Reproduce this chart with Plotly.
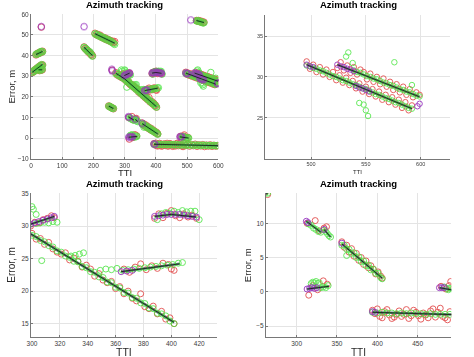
import plotly.graph_objects as go

# ---------------- data (TTI, error in m) ----------------
T01_X = [4, 7, 10, 13, 16, 19, 22, 25, 28, 31, 34, 37]
T01_RED = [31.7, 32.5, 32.3, 33.2, 33.0, 33.9, 33.7, 34.6, 34.4, 35.3, 35.1, 35.5]
T01_GRN = [32.1, 32.0, 32.8, 32.7, 33.5, 33.4, 34.2, 34.1, 34.9, 34.8, 35.6, 35.3]
T01_LX = [4, 37]
T01_LY = [31.9, 35.7]

T02_X = [24, 27, 30, 33, 36]
T02_RED = [33.2, 32.7, 33.4, 32.9, 33.1]
T02_GRN = [33.0, 33.5, 32.8, 33.6, 33.3]
T02_LX = [24, 36]
T02_LY = [33.1, 33.1]

T03_X = [16, 19, 22, 25, 28, 31, 34, 37]
T03_RED = [40.3, 40.9, 40.8, 41.4, 41.2, 41.8, 41.6, 42.1]
T03_GRN = [40.6, 40.7, 41.1, 41.0, 41.5, 41.9, 42.0, 41.8]
T03_LX = [16, 37]
T03_LY = [40.5, 42.0]

T04_X = [170, 173, 176, 179, 182, 185, 188, 191, 194, 197]
T04_RED = [44.2, 43.4, 43.3, 42.5, 42.4, 41.5, 41.5, 40.6, 40.6, 39.9]
T04_GRN = [44.0, 43.7, 42.9, 42.9, 42.0, 41.9, 41.8, 41.2, 40.2, 39.7]
T04_LX = [170, 197]
T04_LY = [44.0, 40.0]

T05_X = [205, 209, 213, 217, 221, 225, 229, 233, 237, 241, 245, 249, 253, 257, 261, 265, 268]
T05_RED = [50.8, 50.1, 50.3, 49.5, 49.9, 48.9, 49.0, 48.3, 48.6, 47.7, 48.0, 47.2, 47.4, 46.6, 47.0, 46.3, 46.8]
T05_GRN = [50.5, 50.4, 49.8, 49.8, 49.2, 49.2, 48.6, 48.7, 48.0, 48.1, 47.5, 47.6, 46.9, 46.9, 46.2, 45.8, 45.4]
T05_LX = [205, 268]
T05_LY = [50.6, 46.0]

T06_X = [249, 252, 255, 258, 261, 264]
T06_RED = [15.6, 15.2, 15.1, 14.6, 14.6, 14.2]
T06_GRN = [15.4, 15.4, 14.9, 14.8, 14.4, 14.4]
T06_LX = [249, 264]
T06_LY = [15.5, 14.3]

T07_X = [272, 276, 280, 284, 288, 292, 296, 300, 303, 306, 309, 312, 315, 318, 321, 324,
         327, 330, 333, 336, 339, 342, 345, 348, 351, 354, 357, 360, 363, 366, 369, 372,
         375, 378, 381, 384, 387, 390, 393, 396, 399, 402]
T07_RED = [31.7, 30.6, 30.9, 29.9, 30.2, 29.2, 29.5, 28.9, 28.0, 28.1, 27.2, 27.5, 26.5, 26.0,
           25.7, 25.9, 24.8, 25.1, 24.6, 23.7, 24.0, 23.4, 22.3, 22.7, 21.7, 21.3, 21.5, 20.4,
           20.7, 19.6, 20.0, 18.9, 18.5, 19.6, 17.6, 17.3, 17.7, 16.5, 16.9, 15.7, 15.9, 15.0]
T07_GRN = [31.2, 31.2, 30.4, 30.4, 29.7, 29.8, 29.0, 28.6, 28.4, 27.8, 27.6, 27.0, 26.8, 26.2,
           26.0, 25.4, 25.2, 24.6, 24.5, 23.8, 23.6, 23.0, 22.9, 22.2, 22.1, 21.4, 21.3, 20.6,
           20.5, 19.8, 19.7, 19.0, 18.9, 18.2, 18.1, 17.4, 17.3, 16.6, 16.5, 16.2, 15.4, 15.0]
T07_LX = [272, 300, 402]
T07_LY = [31.4, 28.7, 15.2]

T08_PX = [299, 302, 305, 308, 311, 314, 316]
T08_PUR = [30.3, 30.5, 30.7, 30.9, 31.1, 31.3, 31.5]
T08_RED = [30.0, 30.6, 30.5, 31.0, 31.2, 31.6, 31.3]
T08_GX = [303, 306, 309, 312, 315, 318]
T08_GRN = [30.4, 30.5, 30.6, 30.5, 30.7, 30.6]
T08_LX = [299, 316]
T08_LY = [30.3, 31.5]

T09_X = [388, 391, 394, 397, 400, 403, 406, 409, 412, 415, 418]
T09_PUR = [31.5, 31.6, 31.7, 31.8, 31.8, 31.8, 31.8, 31.7, 31.6, 31.5, 31.4]
T09_RED = [31.2, 31.9, 31.3, 32.0, 32.4, 31.6, 31.3, 31.9, 31.4, 31.7, 31.2]
T09_GX = [390, 393, 396, 399, 402, 405, 408, 411, 414, 417, 420]
T09_GRN = [31.0, 31.9, 32.1, 32.0, 32.3, 32.1, 32.4, 32.2, 32.3, 32.3, 31.0]
T09_LX = [388, 400, 418]
T09_LY = [31.5, 31.8, 31.4]

T10_PX = [364, 368, 372]
T10_PUR = [23.0, 23.1, 23.2]
T10_GX = [349, 353, 357, 361, 365, 369, 373, 377, 381, 385, 389, 393, 397, 401, 405, 408]
T10_GRN = [23.2, 23.4, 23.3, 23.5, 23.2, 23.3, 23.4, 23.5, 23.6, 23.7, 23.8, 23.9, 24.0, 24.1, 24.3, 24.4]
T10_RX = [366, 370, 374, 378, 382, 386, 390, 394, 398, 400, 402]
T10_RED = [23.4, 22.9, 23.7, 24.2, 23.3, 23.9, 23.5, 24.3, 24.1, 23.4, 23.2]
T10_LX = [364, 406]
T10_LY = [23.0, 24.2]

T11_PX = [312, 314]
T11_PUR = [10.3, 10.1]
T11_GX = [315, 318, 321, 324, 327, 330]
T11_GRN = [9.9, 9.7, 9.3, 9.1, 8.8, 8.7]
T11_RX = [313, 323, 328]
T11_RED = [10.0, 10.4, 8.9]
T11_LX = [312, 330]
T11_LY = [10.3, 8.7]

T12_PX = [334]
T12_PUR = [9.1]
T12_GX = [334, 336, 338, 340, 342]
T12_GRN = [9.0, 8.8, 8.5, 8.2, 8.0]
T12_RX = [334, 337]
T12_RED = [9.3, 9.5]
T12_LX = [334, 342]
T12_LY = [9.1, 8.0]

T13_X = [356, 359, 362, 365, 368, 371, 374, 377, 380, 383, 386, 389, 392, 395, 398, 401, 404, 406]
T13_RED = [7.3, 6.5, 6.8, 5.8, 6.3, 5.2, 5.6, 4.6, 5.0, 4.0, 4.5, 3.5, 3.8, 3.3, 2.6, 2.9, 2.3, 2.0]
T13_GRN = [6.8, 6.8, 6.2, 6.2, 5.6, 5.7, 5.0, 5.1, 4.4, 4.5, 3.8, 3.9, 3.2, 3.3, 2.7, 2.7, 2.1, 1.9]
T13_PX = [356]
T13_PUR = [7.1]
T13_LX = [356, 406]
T13_LY = [7.0, 2.0]

T14_PX = [313, 316, 319, 322, 325]
T14_PUR = [0.4, 0.5, 0.6, 0.5, 0.6]
T14_GX = [318, 320, 322, 324, 326, 328, 330, 333, 336, 339]
T14_GRN = [1.2, 1.4, 1.3, 1.5, 1.2, 1.3, 0.6, 0.7, 0.6, 0.9]
T14_RX = [315, 320, 326, 333, 338]
T14_RED = [-0.5, 0.9, 0.3, 1.6, 1.1]
T14_LX = [313, 340]
T14_LY = [0.4, 0.8]

T15_X = [394, 400, 406, 412, 418, 424, 430, 436, 442, 448, 454, 460, 466, 472, 478, 484, 490,
         496, 502, 508, 514, 520, 526, 532, 538, 544, 550, 556, 562, 568, 574, 580, 586, 592, 598]
T15_RED = [-2.7, -2.5, -3.8, -2.6, -3.9, -3.3, -3.6, -2.6, -3.5, -3.0, -4.0, -3.4, -2.8, -3.7,
           -2.4, -3.8, -2.9, -3.6, -3.1, -3.9, -3.2, -3.7, -3.0, -4.0, -3.3, -3.8, -3.2, -4.1,
           -3.4, -3.9, -3.3, -4.0, -3.5, -3.9, -3.6]
T15_GRN = [-3.0, -3.1, -3.0, -3.1, -3.1, -3.2, -3.1, -3.2, -3.1, -3.2, -3.2, -3.3, -3.2, -3.3,
           -3.3, -3.3, -3.3, -3.4, -3.3, -3.4, -3.4, -3.4, -3.5, -3.4, -3.5, -3.5, -3.5, -3.5,
           -3.6, -3.6, -3.6, -3.6, -3.6, -3.7, -3.7]
T15_RX2 = [397, 403, 409, 415, 421, 427, 433, 439, 445, 451, 457, 463, 469, 475, 481, 487]
T15_RED2 = [-3.2, -3.6, -2.9, -3.4, -3.7, -2.8, -3.3, -3.9, -2.7, -3.5, -3.1, -3.8, -2.5, -3.0, -3.6, -4.1]
T15_PX = [394, 397]
T15_PUR = [-2.9, -3.0]
T15_LX = [394, 491, 600]
T15_LY = [-3.0, -3.3, -3.7]

T16_PX = [477, 480, 483]
T16_PUR = [0.6, 0.6, 0.6]
T16_GX = [483, 486, 488, 490, 493, 496, 499, 502, 505]
T16_GRN = [0.7, 0.5, 0.3, 0.5, 0.4, 0.3, 0.2, 0.1, 0.0]
T16_RX = [479, 485, 489, 491, 497, 503]
T16_RED = [0.8, 0.4, 0.9, 1.5, 0.2, 0.3]
T16_LX = [477, 505]
T16_LY = [0.6, 0.0]

T17_X = [496, 499, 502, 505, 508, 511, 514, 517, 520, 523, 526, 529, 532, 535, 538, 541, 544,
         547, 550, 553, 556, 559, 562, 565, 568, 571, 574, 577, 580, 583, 586, 589, 592]
T17_RED = [31.9, 31.0, 31.5, 30.6, 31.2, 30.3, 30.9, 30.0, 30.6, 29.6, 30.2, 29.3, 29.9, 29.0,
           29.5, 28.6, 29.2, 28.2, 28.8, 27.9, 28.5, 27.6, 28.2, 27.2, 27.8, 26.9, 27.5, 26.6,
           27.2, 26.2, 26.9, 25.9, 26.5]
T17_GRN = [31.4, 31.3, 31.1, 31.0, 30.8, 30.7, 30.5, 30.3, 30.1, 30.0, 29.8, 29.6, 29.5, 29.3,
           29.1, 29.0, 28.8, 28.6, 28.5, 28.3, 28.1, 27.9, 27.8, 27.6, 27.4, 27.3, 27.1, 26.9,
           26.8, 26.6, 26.4, 26.2, 26.1]
T17_PX = [496, 499, 502, 541, 544, 547, 550, 553]
T17_PUR = [31.5, 31.3, 31.2, 28.9, 28.7, 28.6, 28.4, 28.2]
T17_LX = [496, 592]
T17_LY = [31.5, 26.1]

T18_X = [524, 527, 530, 533, 536, 539, 542, 545, 548, 551, 554, 557, 560, 563, 566, 569, 572,
         575, 578, 581, 584, 587, 590, 593, 596, 599]
T18_RED = [31.1, 31.8, 30.8, 31.4, 30.5, 31.2, 30.3, 30.9, 30.6, 29.7, 30.4, 29.4, 30.0, 29.1,
           29.8, 28.8, 29.4, 28.4, 29.1, 28.1, 28.8, 27.8, 28.5, 27.5, 28.1, 27.8]
T18_GX = [539, 542, 545, 548, 551, 554, 557, 560, 563, 566, 569, 572, 575, 578, 581, 584, 587,
          590, 593, 596, 599]
T18_GRN = [30.8, 30.6, 30.5, 30.3, 30.1, 30.0, 29.8, 29.7, 29.5, 29.3, 29.2, 29.0, 28.9, 28.7,
           28.5, 28.4, 28.2, 28.1, 27.9, 27.7, 27.6]
T18_PX = [524, 527, 530, 533, 536, 539]
T18_PUR = [31.5, 31.3, 31.2, 31.0, 30.9, 30.7]
T18_LX = [524, 599]
T18_LY = [31.5, 27.56]

T19_X = [530, 533, 536, 539, 542, 545, 548, 551, 554]
T19_RED = [57.0, 56.7, 57.0, 56.5, 56.8, 56.2, 56.5, 56.0, 56.2]
T19_GRN = [56.8, 56.9, 56.6, 56.7, 56.3, 56.4, 56.1, 55.8, 55.9]
T19_LX = [530, 554]
T19_LY = [57.0, 56.0]

ISO_PUR_X = [33, 170, 259, 260, 512, 597, 599]
ISO_PUR_Y = [54.0, 54.0, 33.3, 32.5, 57.2, 26.4, 26.7]
ISO_RED_X = [33, 260, 294, 297]
ISO_RED_Y = [53.8, 32.9, 30.9, 31.2]
ISO_GRN_X = [290, 293, 300, 301, 303, 307, 532, 534, 538, 576, 544, 548, 550, 552, 592, 362,
             328, 331, 334, 337]
ISO_GRN_Y = [33.0, 32.4, 33.0, 32.6, 31.8, 24.7, 32.5, 33.0, 31.7, 31.8, 26.8, 26.6, 25.9, 25.2,
             29.0, 5.3, 25.4, 25.5, 25.7, 25.9]

TITLE = "Azimuth tracking"
XLABEL = "TTI"
YLABEL = "Error, m"

# ---------------- assemble series ----------------
red_sets = [(T01_X, T01_RED), (T02_X, T02_RED), (T03_X, T03_RED), (T04_X, T04_RED),
            (T05_X, T05_RED), (T06_X, T06_RED), (T07_X, T07_RED), (T08_PX, T08_RED),
            (T09_X, T09_RED), (T10_RX, T10_RED), (T11_RX, T11_RED), (T12_RX, T12_RED),
            (T13_X, T13_RED), (T14_RX, T14_RED), (T15_X, T15_RED), (T15_RX2, T15_RED2),
            (T16_RX, T16_RED), (T17_X, T17_RED), (T18_X, T18_RED), (T19_X, T19_RED),
            (ISO_RED_X, ISO_RED_Y)]
grn_sets = [(T01_X, T01_GRN), (T02_X, T02_GRN), (T03_X, T03_GRN), (T04_X, T04_GRN),
            (T05_X, T05_GRN), (T06_X, T06_GRN), (T07_X, T07_GRN), (T08_GX, T08_GRN),
            (T09_GX, T09_GRN), (T10_GX, T10_GRN), (T11_GX, T11_GRN), (T12_GX, T12_GRN),
            (T13_X, T13_GRN), (T14_GX, T14_GRN), (T15_X, T15_GRN), (T16_GX, T16_GRN),
            (T17_X, T17_GRN), (T18_GX, T18_GRN), (T19_X, T19_GRN), (ISO_GRN_X, ISO_GRN_Y)]
pur_sets = [(T08_PX, T08_PUR), (T09_X, T09_PUR), (T10_PX, T10_PUR), (T11_PX, T11_PUR),
            (T12_PX, T12_PUR), (T13_PX, T13_PUR), (T14_PX, T14_PUR), (T15_PX, T15_PUR),
            (T16_PX, T16_PUR), (T17_PX, T17_PUR), (T18_PX, T18_PUR), (ISO_PUR_X, ISO_PUR_Y)]
line_sets = [(T01_LX, T01_LY), (T02_LX, T02_LY), (T03_LX, T03_LY), (T04_LX, T04_LY),
             (T05_LX, T05_LY), (T06_LX, T06_LY), (T07_LX, T07_LY), (T08_LX, T08_LY),
             (T09_LX, T09_LY), (T10_LX, T10_LY), (T11_LX, T11_LY), (T12_LX, T12_LY),
             (T13_LX, T13_LY), (T14_LX, T14_LY), (T15_LX, T15_LY), (T16_LX, T16_LY),
             (T17_LX, T17_LY), (T18_LX, T18_LY), (T19_LX, T19_LY)]


def join(sets, sep=False):
    xs, ys = [], []
    for sx, sy in sets:
        for a, b in zip(sx, sy):
            xs.append(a)
            ys.append(b)
        if sep:
            xs.append(None)
            ys.append(None)
    return xs, ys


RX, RY = join(red_sets)
GX, GY = join(grn_sets)
PX, PY = join(pur_sets)
LX, LY = join(line_sets, sep=True)

RED = "rgb(228,80,80)"
GREEN = "rgb(70,228,60)"
PURPLE = "rgb(150,50,190)"

W, H = 474, 357
panels = [
    dict(xp=(31, 218.3), yp=(14.3, 158.7), xr=[0, 600], yr=[-10, 60],
         xt=[0, 100, 200, 300, 400, 500, 600], yt=[-10, 0, 10, 20, 30, 40, 50, 60],
         tf=6.5, xl=(124.6, 172.5, 9.5), yl=(11, 9.5), title=(124.6, 5), ms=6.5),
    dict(xp=(265.3, 450.3), yp=(15, 158.7), xr=[458.3, 627], yr=[19.96, 37.6],
         xt=[500, 550, 600], yt=[25, 30, 35],
         tf=5.5, xl=(357.8, 172.0, 6), yl=None, title=(358.5, 5), ms=5.5),
    dict(xp=(31, 217.3), yp=(193, 337.3), xr=[299.3, 433], yr=[12.9, 35.1],
         xt=[300, 320, 340, 360, 380, 400, 420], yt=[15, 20, 25, 30, 35],
         tf=6.5, xl=(124.2, 352, 10.5), yl=(11.5, 10), title=(124.2, 183.5), ms=6),
    dict(xp=(266, 451.3), yp=(193, 337.3), xr=[262, 491.7], yr=[-6.65, 14.43],
         xt=[300, 350, 400, 450], yt=[-5, 0, 5, 10],
         tf=6.5, xl=(358.6, 352, 10), yl=(247, 9.5), title=(358.6, 183.5), ms=6),
]

fig = go.Figure()
annotations = []
layout = {}
FONT = "Liberation Sans, Arial, sans-serif"

for i, p in enumerate(panels):
    n = "" if i == 0 else str(i + 1)
    xa, ya = "x" + n, "y" + n
    mk = dict(symbol="circle-open", size=p["ms"], line=dict(width=1))
    fig.add_trace(go.Scatter(x=RX, y=RY, mode="markers", xaxis=xa, yaxis=ya,
                             marker=dict(mk, color=RED), opacity=0.9, showlegend=False))
    fig.add_trace(go.Scatter(x=LX, y=LY, mode="lines", xaxis=xa, yaxis=ya,
                             line=dict(color="rgba(60,120,90,0.85)", width=2.5),
                             showlegend=False))
    fig.add_trace(go.Scatter(x=GX, y=GY, mode="markers", xaxis=xa, yaxis=ya,
                             marker=dict(mk, color=GREEN), opacity=0.8, showlegend=False))
    fig.add_trace(go.Scatter(x=PX, y=PY, mode="markers", xaxis=xa, yaxis=ya,
                             marker=dict(mk, color=PURPLE), opacity=0.9, showlegend=False))
    fig.add_trace(go.Scatter(x=LX, y=LY, mode="lines", xaxis=xa, yaxis=ya,
                             line=dict(color="rgba(20,20,20,0.9)", width=0.9),
                             showlegend=False))

    axcommon = dict(showgrid=True, gridcolor="rgb(228,228,228)", gridwidth=1,
                    showline=True, linecolor="rgb(120,120,120)", linewidth=1,
                    ticks="inside", ticklen=2, tickcolor="rgb(120,120,120)",
                    zeroline=False, mirror=False, automargin=False,
                    tickfont=dict(family=FONT, size=p["tf"], color="rgb(60,60,60)"))
    layout["xaxis" + n] = dict(axcommon, domain=[p["xp"][0] / W, p["xp"][1] / W],
                               range=p["xr"], tickvals=p["xt"], anchor=ya)
    layout["yaxis" + n] = dict(axcommon, domain=[1 - p["yp"][1] / H, 1 - p["yp"][0] / H],
                               range=p["yr"], tickvals=p["yt"], anchor=xa)

    tx, ty = p["title"]
    annotations.append(dict(text="<b>" + TITLE + "</b>", x=tx / W, y=1 - ty / H,
                            xref="paper", yref="paper", showarrow=False,
                            xanchor="center", yanchor="middle",
                            font=dict(family=FONT, size=9.5, color="black")))
    lx, ly, ls = p["xl"]
    annotations.append(dict(text=XLABEL, x=lx / W, y=1 - ly / H, xref="paper", yref="paper",
                            showarrow=False, xanchor="center", yanchor="middle",
                            font=dict(family=FONT, size=ls, color="rgb(40,40,40)")))
    if p["yl"] is not None:
        yx, ys = p["yl"]
        yc = (p["yp"][0] + p["yp"][1]) / 2
        annotations.append(dict(text=YLABEL, x=yx / W, y=1 - yc / H, xref="paper",
                                yref="paper", showarrow=False, textangle=-90,
                                xanchor="center", yanchor="middle",
                                font=dict(family=FONT, size=ys, color="rgb(40,40,40)")))

fig.update_layout(width=W, height=H, margin=dict(l=0, r=0, t=0, b=0, autoexpand=False),
                  paper_bgcolor="white", plot_bgcolor="white",
                  annotations=annotations, showlegend=False, **layout)

fig.write_html("out.html", config={"displayModeBar": False},
               post_script="document.body.style.margin='0px';document.body.style.overflow='hidden';")
